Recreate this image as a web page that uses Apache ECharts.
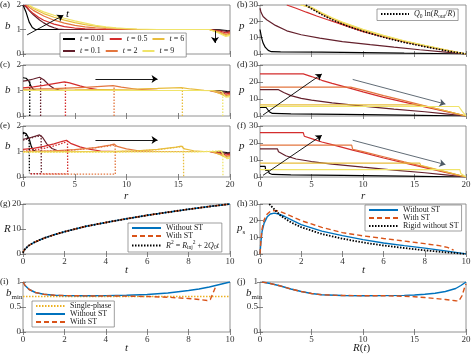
<!DOCTYPE html>
<html><head><meta charset="utf-8">
<script src="https://cdn.jsdelivr.net/npm/echarts@6/dist/echarts.min.js"></script>
<style>html,body{margin:0;padding:0;background:#fff}#c{width:474px;height:355px}</style>
</head><body><div id="c"></div>
<script>
// ---------------- DATA ----------------
const tNames = ['t = 0.01','t = 0.1','t = 0.5','t = 2','t = 6','t = 9'];
// (a) b vs r
const a_t001 = [[0,2],[0.3,1.7],[0.6,1.3],[0.9,1.08],[1.2,1.0],[18,1.0],[19,0.99],[19.7,0.96],[20,0.95]];
const a_t01  = [[0,2],[0.3,1.92],[0.65,1.75],[1,1.6],[1.6,1.39],[2,1.27],[2.5,1.15],[3,1.07],[3.4,1.02],[4,1.0],[18,1.0],[19,0.97],[19.7,0.92],[20,0.93]];
const a_t05  = [[0.2,2],[0.6,1.8],[1,1.65],[1.5,1.5],[2,1.38],[3,1.22],[4,1.12],[5,1.06],[6,1.03],[7,1.01],[8,1.0],[18,1.0],[19,0.94],[19.6,0.86],[20,0.9]];
const a_t2   = [[0.3,2],[1,1.78],[2,1.55],[3,1.38],[4,1.26],[5,1.17],[6,1.11],[7,1.07],[8,1.04],[9,1.02],[10,1.0],[18,1.0],[19,0.9],[19.6,0.8],[20,0.85]];
const a_t6   = [[0.5,2],[1,1.86],[2,1.65],[3,1.5],[4,1.38],[5,1.28],[6,1.2],[7,1.14],[8,1.09],[9,1.05],[10,1.03],[11,1.01],[12,1.0],[18,1.0],[19,0.87],[19.6,0.76],[20,0.8]];
const a_t9   = [[0.6,2],[1,1.9],[2,1.72],[3,1.58],[4,1.46],[5,1.35],[6,1.26],[7,1.17],[8,1.11],[9,1.07],[10,1.04],[11,1.02],[12,1.01],[13,1.0],[18,1.0],[19,0.84],[19.6,0.72],[20,0.76]];
const a_arrowT = [[0.4,0.78],[3.9,1.58]];
const a_arrowDown = [[18.55,0.95],[18.55,0.45]];
// (b) p vs r
const b_t001 = [[0,15],[0.15,10],[0.3,6.7],[0.5,4.2],[0.8,2.2],[1.1,1.4],[2,1.3],[6,1.1],[10,0.8],[14,0.5],[17,0.3],[20,0]];
const b_t01  = [[0,28],[0.1,25.5],[0.3,23],[0.65,21],[1.5,17.5],[2.6,14.2],[4,11.8],[5.8,9.7],[8,7.6],[10.7,5.7],[13,4.2],[15.5,2.6],[18,1.2],[20,0]];
const b_t05  = [[2.6,30],[3.5,28],[4.5,25.6],[5.5,23.3],[6.5,21.1],[8,18],[10,13.6],[12,10.4],[14,7.6],[16,4.9],[18,2.4],[20,0]];
const b_t2   = [[4.2,30],[5,28],[6,24.5],[7,21.4],[8,18.7],[10,14.3],[12,10.6],[14,7.5],[16,4.8],[18,2.3],[20,0]];
const b_t6   = [[4.0,30],[5,28.4],[6,25],[7,21.9],[8,19.2],[10,14.8],[12,11.1],[14,7.9],[16,5.1],[18,2.5],[20,0]];
const b_t9   = [[3.9,30],[5,28.6],[6,25.3],[7,22.2],[8,19.5],[10,15.1],[12,11.4],[14,8.1],[16,5.3],[18,2.6],[20,0]];
const b_log  = [[4.46,30],[5,27.7],[6,24.1],[7,21],[8,18.3],[9,16],[10,13.9],[12,10.2],[14,7.1],[16,4.5],[18,2.1],[20,0]];
// (c) b vs r
const c_t001 = [[0,1.5],[0.3,1.48],[0.55,1.38],[0.8,1.15],[1,1.04],[1.3,1.0],[18,1.0],[19,0.99],[19.7,0.96],[20,0.95]];
const c_t01  = [[0,1.37],[0.5,1.4],[1,1.45],[1.6,1.52],[2,1.42],[2.5,1.22],[3,1.08],[3.5,1.02],[4,1.0],[18,1.0],[19,0.97],[19.7,0.92],[20,0.93]];
const c_t05  = [[0,1.1],[1,1.14],[2,1.2],[3,1.27],[4,1.34],[4.5,1.3],[5.5,1.18],[6.5,1.08],[7.5,1.02],[9,1.0],[18,1.0],[19,0.94],[19.6,0.86],[20,0.9]];
const c_t2   = [[0,1.05],[3,1.07],[6,1.12],[8.7,1.19],[9.5,1.13],[11,1.05],[13,1.01],[14,1.0],[18,1.0],[19,0.9],[19.6,0.8],[20,0.85]];
const c_t6   = [[0,1.02],[5,1.03],[10,1.05],[13,1.08],[15.3,1.11],[16.2,1.06],[17.5,1.01],[18.3,1.0],[19,0.88],[19.6,0.77],[20,0.8]];
const c_t9   = [[0,1.0],[17,1.0],[18.5,0.99],[19.2,0.96],[19.6,0.74],[20,0.76]];
const c_front  = [0.65,1.7,4.1,8.8,15.4,19.3];
const c_frontB = [1.42,1.5,1.33,1.18,1.1,0.95];
// (d) p vs r
const d_t001 = [[0,5],[0.6,5],[0.9,2.5],[1.2,1.5],[3,1.3],[8,1],[14,0.5],[20,0]];
const d_t01  = [[0,15.5],[1.8,15.5],[2.3,13.8],[3,12],[4,10.4],[5,9.3],[7,7.7],[10,5.8],[13,4.1],[16,2.5],[18,1.3],[20,0]];
const d_t05  = [[0,24.8],[4.2,24.8],[5,23.2],[6,21],[7,19.2],[8.7,16.4],[10,14.2],[12,11],[14,8.2],[16,5.4],[18,2.7],[20,0]];
const d_t2   = [[0,17],[8.8,17],[10,15.2],[12,12],[14,9],[16,6],[18,3],[20,0]];
const d_t6   = [[0,6.6],[15.4,6.6],[16,5.9],[18,3.1],[20,0]];
const d_t9   = [[0,5.6],[19.3,5.6],[19.6,3],[20,0]];
const d_arrowUp   = [[0.3,0.6],[6,24.7]];
const d_arrowDown = [[9,21.5],[18,7]];
// (e) b vs r, solid and dotted
const e_t001 = [[0,1.75],[0.3,1.7],[0.6,1.5],[0.8,1.2],[1,1.05],[1.3,1.0],[18,1.0],[19,0.99],[19.7,0.96],[20,0.95]];
const e_t01  = [[0,1.48],[0.5,1.52],[1,1.58],[1.6,1.65],[1.9,1.55],[2.3,1.3],[2.8,1.12],[3.3,1.04],[4,1.0],[18,1.0],[19,0.97],[19.7,0.92],[20,0.93]];
const e_t05  = [[0,1.08],[1,1.12],[2,1.2],[3,1.3],[3.8,1.4],[4.2,1.44],[4.6,1.32],[5.5,1.18],[6.5,1.08],[7.5,1.02],[9,1.0],[18,1.0],[19,0.94],[19.6,0.86],[20,0.9]];
const e_t2   = [[0,1.0],[3,1.03],[5,1.07],[7,1.15],[8.4,1.25],[8.8,1.29],[9.1,1.2],[10,1.1],[11,1.04],[12.5,1.01],[14,1.0],[18,1.0],[19,0.9],[19.6,0.8],[20,0.85]];
const e_t6   = [[0,1.0],[8,1.0],[11,1.03],[13,1.08],[14.8,1.17],[15.3,1.21],[15.6,1.1],[16.5,1.03],[17.5,1.0],[18.3,1.0],[19,0.88],[19.6,0.77],[20,0.8]];
const e_t9   = [[0,0.98],[17,0.99],[18.5,1.0],[19.1,1.03],[19.4,0.85],[19.7,0.72],[20,0.74]];
const e_d001 = [[0,1.72],[0.3,1.62],[0.6,1.4],[0.62,0.15]];
const e_d01  = [[0,1.45],[0.6,1.5],[1.2,1.58],[1.75,1.62],[1.77,0.13],[0.6,0.13]];
const e_d05  = [[0,1.0],[1,1.05],[2,1.12],[3,1.22],[4,1.35],[4.3,1.4],[4.32,0.12],[0.6,0.12]];
const e_d2   = [[0,1.0],[4,1.03],[6,1.1],[8,1.2],[8.9,1.26],[8.92,0.11],[1.8,0.11]];
const e_d6   = [[0,0.98],[10,1.0],[13,1.07],[15,1.17],[15.5,1.2],[15.52,0.02]];
const e_d9   = [[0,0.97],[17,0.99],[19,1.02],[19.3,1.0],[19.32,0.02]];
// (f) p vs r
const f_t001 = [[0,6.3],[0.5,6.3],[0.55,3.9],[0.8,3.9],[0.9,2.2],[1.2,1.5],[3,1.3],[8,1],[14,0.5],[20,0]];
const f_t01  = [[0,16.5],[1.7,16.5],[1.8,14.8],[2.5,12.5],[3.5,10.6],[5,9.1],[7,7.6],[10,5.8],[13,4.1],[16,2.5],[18,1.3],[20,0]];
const f_t05  = [[0,26.1],[4.2,26.1],[4.3,24],[5,22.6],[6,20.6],[7,19],[8,17.4],[9,15.8],[10,14.3],[12,11.2],[14,8.3],[16,5.5],[18,2.7],[20,0]];
const f_t2   = [[0,18.8],[8.9,18.8],[9,16.3],[10,14.9],[12,11.9],[14,8.9],[16,6],[18,3],[20,0]];
const f_t6   = [[0,8.2],[15.5,8.2],[15.6,6.9],[16,6.3],[18,3.2],[20,0]];
const f_t9   = [[0,4.3],[19.4,4.3],[19.5,2],[20,0]];
const f_arrowUp   = [[0.3,1],[6,24.5]];
const f_arrowDown = [[9,21.6],[18,7.3]];
// (g) R vs t
const g_t     = [0,0.05,0.1,0.25,0.5,1,1.5,2,3,4,5,6,7,8,9,10];
const g_noST  = [0.5,1.5,2,3.2,4.5,6.3,7.7,8.9,11,12.6,14.1,15.5,16.7,17.9,19,20];
const g_ST    = [0.5,1.5,2,3.2,4.5,6.3,7.7,8.9,11,12.6,14.1,15.5,16.7,17.9,19,20];
const g_rigid = [0.5,1.5,2,3.2,4.5,6.3,7.7,8.9,11,12.6,14.1,15.5,16.7,17.9,19,20];
// (h) p_s vs t
const h_noST  = [[0,0],[0.05,8],[0.1,13.5],[0.2,18.5],[0.35,22.3],[0.5,24],[0.7,24.5],[0.9,24],[1.2,22.5],[1.6,20],[2,17.6],[3,13.7],[4,11],[5,8.6],[6,6.6],[7,5],[8,3.5],[9,1.9],[10,0.1]];
const h_ST    = [[0,0],[0.05,9],[0.1,15],[0.2,20.5],[0.35,24],[0.5,25.6],[0.7,26.1],[0.9,25.8],[1.2,24.4],[1.6,22.2],[2,20],[3,16],[4,12.8],[5,10.9],[6,9.3],[7,7.8],[8,6.2],[8.7,5],[9.1,4],[9.4,2.3]];
const h_rigid = [[0.45,30],[0.6,28],[0.8,25.5],[1,23],[1.5,19],[2,16.1],[3,12],[4,9.2],[5,6.9],[6,5.1],[7,3.6],[8,2.2],[9,1.05],[10,0]];
// (i) b_min vs t
const i_single = [[0,0.71],[10,0.71]];
const i_noST = [[0,1],[0.1,0.93],[0.3,0.85],[0.6,0.79],[1,0.755],[1.5,0.735],[2,0.728],[3,0.725],[4,0.727],[5,0.735],[6,0.75],[7,0.78],[8,0.83],[8.5,0.86],[9,0.9],[9.5,0.95],[10,1]];
const i_ST   = [[0,1],[0.1,0.93],[0.3,0.85],[0.6,0.79],[1,0.755],[1.5,0.735],[2,0.728],[3,0.722],[4,0.72],[5,0.718],[6,0.71],[7,0.695],[8,0.67],[8.5,0.65],[8.9,0.63],[9.05,0.65],[9.2,0.8],[9.3,0.9]];
// (j) b_min vs R(t)
const j_noST = [[0.2,1],[1,0.97],[2,0.92],[3,0.86],[4,0.81],[5,0.77],[6,0.745],[8,0.73],[10,0.726],[12,0.727],[14,0.733],[15,0.74],[16,0.755],[17,0.775],[18,0.81],[19,0.87],[19.5,0.93],[20,1]];
const j_ST   = [[0.2,1],[1,0.97],[2,0.92],[3,0.86],[4,0.81],[5,0.77],[6,0.745],[8,0.73],[10,0.726],[12,0.725],[13,0.72],[14,0.715],[15,0.705],[16,0.69],[17,0.67],[18,0.65],[19,0.625],[19.3,0.62],[19.6,0.72],[19.85,0.88],[20,0.96]];

// ---------------- STYLE / LAYOUT ----------------
const FONT = 'Liberation Serif';
const TC = ['#000000','#64202c','#d42d2d','#e3763f','#e8bd3e','#f0e46a'];
const BLUE = '#0072BD', ORANGE = '#D95319', YEL = '#EDB120';
const rows = [[5,49],[65,51],[126,51],[204,50],[282,50]];
const cols = [[23,207],[260,206]];
const axSpec = [ // xmin,xmax,xint,showX, ymin,ymax,yint
  [0,20,5,false,0,2,1],[0,20,5,false,0,30,10],
  [0,20,5,false,0,2,1],[0,20,5,false,0,30,10],
  [0,20,5,true,0,2,1],[0,20,5,true,0,30,10],
  [0,10,2,true,0,20,10],[0,10,2,true,0,30,10],
  [0,10,2,true,0,1,0.5],[0,20,5,true,0,1,0.5]
];
const grid = [], xAxis = [], yAxis = [];
const tick = {inside:true, length:3, lineStyle:{color:'#666', width:0.8}};
const lab = {fontFamily:FONT, fontSize:9, color:'#333'};
for (let g = 0; g < 10; g++) {
  const r = rows[Math.floor(g/2)], c = cols[g%2];
  grid.push({left:c[0], top:r[0], width:c[1], height:r[1], show:true, borderColor:'#777', borderWidth:0.8,
    backgroundColor:'transparent', containLabel:false, outerBoundsMode:'none'});
}
for (let k = 0; k < 2; k++) for (let g = 0; g < 10; g++) {
  const s = axSpec[g];
  xAxis.push({type:'value', gridIndex:g, min:s[0], max:s[1], interval:s[2], position: k ? 'top' : 'bottom',
    axisLine:{show:false}, splitLine:{show:false}, axisTick:tick,
    axisLabel:Object.assign({show: !k && s[3], margin:3}, lab)});
  yAxis.push({type:'value', gridIndex:g, min:s[4], max:s[5], interval:s[6], position: k ? 'right' : 'left',
    axisLine:{show:false}, splitLine:{show:false}, axisTick:tick,
    axisLabel:Object.assign({show: !k, margin:2}, lab)});
}

const series = [];
function line(g, name, data, color, o) {
  o = o || {};
  const s = {type:'line', name:name, data:data, xAxisIndex:g, yAxisIndex:g, symbol:'none', showSymbol:false,
    animation:false, silent:true, clip:true, z:o.z || 2,
    lineStyle:{color:color, width:o.w || 1.2, type:o.type || 'solid'}, itemStyle:{color:color}};
  if (o.markLine) s.markLine = o.markLine;
  series.push(s);
}
function arrow(pts, color, label) {
  return {silent:true, animation:false, symbol:['none','arrow'], symbolSize:6,
    lineStyle:{color:color, width:0.9, type:'solid'},
    label:{show:!!label, formatter:label || '', position:'end', distance:3,
      fontFamily:FONT, fontStyle:'italic', fontSize:11, color:'#000'},
    emphasis:{disabled:true},
    data:[[{coord:pts[0]},{coord:pts[1]}]]};
}
const DOT = [1.5,1.5];

// (a)
[a_t001,a_t01,a_t05,a_t2,a_t6,a_t9].forEach((d,i)=>line(0, tNames[i], d, TC[i]));
line(0,'arrA',[], '#000', {markLine:arrow(a_arrowT,'#000','t')});
line(0,'arrA2',[], '#000', {markLine:arrow(a_arrowDown,'#000')});
// (b)
[b_t001,b_t01,b_t05,b_t2,b_t6,b_t9].forEach((d,i)=>line(1, 'b'+i, d, TC[i]));
line(1,'Qlog', b_log, '#000', {type:DOT, w:1.6, z:5});
// (c)
c_front.forEach((f,i)=>line(2,'cf'+i,[[f,0],[f,c_frontB[i]]], TC[i], {type:DOT, w:1.3}));
[c_t001,c_t01,c_t05,c_t2,c_t6,c_t9].forEach((d,i)=>line(2, 'c'+i, d, TC[i]));
line(2,'arrC',[], '#000', {markLine:arrow([[7,1.45],[13,1.45]],'#000')});
// (d)
[d_t001,d_t01,d_t05,d_t2,d_t6,d_t9].forEach((d,i)=>line(3, 'd'+i, d, TC[i]));
line(3,'arrD',[], '#000', {markLine:arrow(d_arrowUp,'#000')});
line(3,'arrD2',[], '#000', {markLine:arrow(d_arrowDown,'#4f5b66')});
// (e)
[e_t001,e_t01,e_t05,e_t2,e_t6,e_t9].forEach((d,i)=>line(4, 'e'+i, d, TC[i]));
[e_d001,e_d01,e_d05,e_d2,e_d6,e_d9].forEach((d,i)=>line(4, 'ed'+i, d, TC[i], {type:DOT, w:1.3}));
line(4,'arrE',[], '#000', {markLine:arrow([[7,1.45],[13,1.45]],'#000')});
// (f)
[f_t001,f_t01,f_t05,f_t2,f_t6,f_t9].forEach((d,i)=>line(5, 'f'+i, d, TC[i]));
line(5,'arrF',[], '#000', {markLine:arrow(f_arrowUp,'#000')});
line(5,'arrF2',[], '#000', {markLine:arrow(f_arrowDown,'#4f5b66')});
// (g)
line(6,'Without ST', g_t.map((t,i)=>[t,g_noST[i]]), BLUE, {w:1.4});
line(6,'With ST', g_t.map((t,i)=>[t,g_ST[i]]), ORANGE, {w:1.4, type:[5,3]});
line(6,'Rsq', g_t.map((t,i)=>[t,g_rigid[i]]), '#000', {w:1.8, type:DOT, z:5});
// (h)
line(7,'Without ST', h_noST, BLUE, {w:1.4});
line(7,'With ST', h_ST, ORANGE, {w:1.4, type:[5,3]});
line(7,'Rigid without ST', h_rigid, '#000', {w:1.8, type:DOT, z:5});
// (i)
line(8,'Single-phase', i_single, YEL, {w:1.4, type:DOT});
line(8,'Without ST', i_noST, BLUE, {w:1.4});
line(8,'With ST', i_ST, ORANGE, {w:1.4, type:[5,3]});
// (j)
line(9,'Without ST', j_noST, BLUE, {w:1.4});
line(9,'With ST', j_ST, ORANGE, {w:1.4, type:[5,3]});

// ---------------- TEXT ----------------
const rich = {
  i:{fontFamily:FONT, fontStyle:'italic', fontSize:11, lineHeight:15, color:'#222'},
  n:{fontFamily:FONT, fontSize:11, lineHeight:15, color:'#222'},
  s:{fontFamily:FONT, fontSize:7, lineHeight:7, verticalAlign:'bottom', color:'#222'},
  li:{fontFamily:FONT, fontStyle:'italic', fontSize:8, lineHeight:11, color:'#222'},
  ln:{fontFamily:FONT, fontSize:8, lineHeight:11, color:'#222'},
  ls:{fontFamily:FONT, fontSize:5.5, lineHeight:6, verticalAlign:'bottom', color:'#222'},
  lsup:{fontFamily:FONT, fontSize:5.5, lineHeight:6, verticalAlign:'top', color:'#222'}
};
function T(text, left, top, size) {
  return {text:text, left:left, top:top, padding:0,
    textStyle:{fontFamily:FONT, fontSize:size || 9, fontWeight:'normal', color:'#222', rich:rich}};
}
const title = [
  T('(a)',0,0), T('(b)',237,0), T('(c)',0,60), T('(d)',237,60), T('(e)',0,121), T('(f)',237,121),
  T('(g)',0,199), T('(h)',237,199), T('(i)',0,277), T('(j)',237,277),
  T('{i|b}',5,19), T('{i|p}',239,19), T('{i|b}',5,83), T('{i|p}',239,83), T('{i|b}',5,139), T('{i|p}',239,139),
  T('{i|R}',4,222), T('{i|p}{s|s}',237,221), T('{i|b}{s|min}',6,286), T('{i|b}{s|min}',246,286),
  T('{i|r}',124,189), T('{i|r}',361,189), T('{i|t}',125,263), T('{i|t}',362,263), T('{i|t}',125,341),
  T('{n|}{i|R}{n|(}{i|t}{n|)}',353,341)
];
const lmap = {
  'Without ST':'{ln|Without ST}', 'With ST':'{ln|With ST}', 'Rigid without ST':'{ln|Rigid without ST}',
  'Single-phase':'{ln|Single-phase}',
  'Rsq':'{li|R}{lsup|2}{ln| = }{li|R}{ls|inj}{lsup|2}{ln| + 2}{li|Q}{ls|0}{li|t}',
  'Qlog':'{li|Q}{ls|0}{ln| ln(}{li|R}{ls|out}{ln|/}{li|R}{ln|)}'
};
tNames.forEach(n=>{ lmap[n] = '{li|t}{ln|' + n.slice(1) + '}'; });
function LG(data, left, top, extra) {
  return Object.assign({data:data, left:left, top:top, orient:'vertical', selectedMode:false,
    itemWidth:29, itemHeight:7, itemGap:0, padding:[1,3,1,3], borderColor:'#777', borderWidth:0.7,
    backgroundColor:'#fff', borderRadius:0, z:6,
    itemStyle:{opacity:0, borderWidth:0},
    formatter:function(n){ return lmap[n] || n; },
    textStyle:{fontFamily:FONT, fontSize:8, color:'#222', rich:rich}}, extra || {});
}
const legend = [
  LG([tNames[0],tNames[2],tNames[4],tNames[1],tNames[3],tNames[5]], 60, 33,
     {orient:'horizontal', width:140, itemWidth:12, itemGap:4, padding:[2,2,2,2],
      textStyle:{fontFamily:FONT, fontSize:8, color:'#222', rich:rich, width:25}}),
  LG(['Qlog'], 377, 9, {itemWidth:28}),
  LG(['Without ST','With ST','Rsq'], 128, 223),
  LG(['Without ST','With ST','Rigid without ST'], 365, 205),
  LG(['Single-phase','Without ST','With ST'], 32, 301)
];

const chart = echarts.init(document.getElementById('c'), null, {renderer:'canvas'});
chart.setOption({animation:false, backgroundColor:'#fff', grid, xAxis, yAxis, series, title, legend});
</script></body></html>
